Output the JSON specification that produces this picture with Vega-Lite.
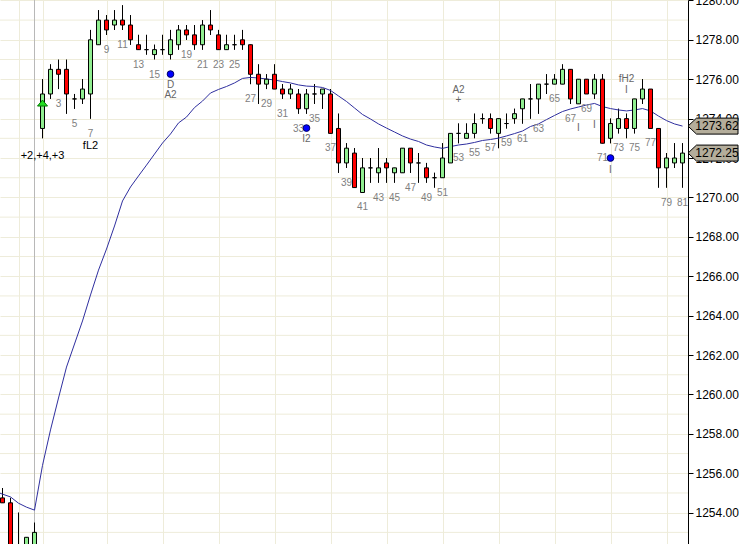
{
  "$schema": "https://vega.github.io/schema/vega-lite/v6.json",
  "width": 688,
  "height": 544,
  "autosize": {"type": "none"},
  "padding": {"left": 0, "top": 0, "right": 51, "bottom": 0},
  "background": "white",
  "config": {"view": {"stroke": null}, "font": "Liberation Sans"},
  "datasets": {
    "bars": [
      {"i": -4, "o": 1254.75, "h": 1255.25, "l": 1254.5, "c": 1254.5},
      {"i": -3, "o": 1254.5, "h": 1254.75, "l": 1251.5, "c": 1252},
      {"i": -2, "o": 1252, "h": 1254, "l": 1251.75, "c": 1252.25},
      {"i": -1, "o": 1252.25, "h": 1252.75, "l": 1252, "c": 1252.75},
      {"i": 0, "o": 1252.25, "h": 1253.5, "l": 1252, "c": 1253},
      {"i": 1, "o": 1273.5, "h": 1276, "l": 1273, "c": 1275.25},
      {"i": 2, "o": 1275.25, "h": 1276.75, "l": 1275, "c": 1276.5},
      {"i": 3, "o": 1276.5, "h": 1277, "l": 1275.5, "c": 1276.25},
      {"i": 4, "o": 1276.5, "h": 1277, "l": 1274.25, "c": 1275.25},
      {"i": 5, "o": 1275, "h": 1275.25, "l": 1274.5, "c": 1275},
      {"i": 6, "o": 1275, "h": 1276, "l": 1274.75, "c": 1275.5},
      {"i": 7, "o": 1275.25, "h": 1278.5, "l": 1274, "c": 1278},
      {"i": 8, "o": 1277.75, "h": 1279.5, "l": 1277.75, "c": 1279},
      {"i": 9, "o": 1279, "h": 1279.25, "l": 1278.25, "c": 1278.5},
      {"i": 10, "o": 1278.75, "h": 1279.5, "l": 1278.5, "c": 1279},
      {"i": 11, "o": 1279, "h": 1279.75, "l": 1278.5, "c": 1278.75},
      {"i": 12, "o": 1278.75, "h": 1279.25, "l": 1277.75, "c": 1278},
      {"i": 13, "o": 1277.75, "h": 1278.25, "l": 1277.5, "c": 1277.5},
      {"i": 14, "o": 1277.5, "h": 1278.25, "l": 1277.25, "c": 1277.5},
      {"i": 15, "o": 1277.25, "h": 1277.75, "l": 1277, "c": 1277.5},
      {"i": 16, "o": 1277.5, "h": 1278.25, "l": 1277.25, "c": 1277.5},
      {"i": 17, "o": 1277.25, "h": 1278.5, "l": 1277, "c": 1278},
      {"i": 18, "o": 1277.75, "h": 1278.75, "l": 1277.5, "c": 1278.5},
      {"i": 19, "o": 1278.5, "h": 1278.75, "l": 1278, "c": 1278.25},
      {"i": 20, "o": 1278.25, "h": 1278.75, "l": 1277.5, "c": 1277.75},
      {"i": 21, "o": 1277.75, "h": 1279, "l": 1277.5, "c": 1278.75},
      {"i": 22, "o": 1278.75, "h": 1279.5, "l": 1278.25, "c": 1278.5},
      {"i": 23, "o": 1278.25, "h": 1278.5, "l": 1277.5, "c": 1277.5},
      {"i": 24, "o": 1277.5, "h": 1278.25, "l": 1277.5, "c": 1277.75},
      {"i": 25, "o": 1277.75, "h": 1278.25, "l": 1277.5, "c": 1277.75},
      {"i": 26, "o": 1278, "h": 1278.5, "l": 1277.5, "c": 1277.75},
      {"i": 27, "o": 1277.75, "h": 1277.75, "l": 1275.75, "c": 1276.25},
      {"i": 28, "o": 1276.25, "h": 1276.75, "l": 1274.75, "c": 1275.75},
      {"i": 29, "o": 1275.75, "h": 1276.25, "l": 1275.5, "c": 1276},
      {"i": 30, "o": 1276.25, "h": 1276.75, "l": 1275.5, "c": 1275.5},
      {"i": 31, "o": 1275.5, "h": 1275.75, "l": 1275, "c": 1275.25},
      {"i": 32, "o": 1275.25, "h": 1275.75, "l": 1275, "c": 1275.5},
      {"i": 33, "o": 1275.25, "h": 1275.5, "l": 1274.25, "c": 1274.5},
      {"i": 34, "o": 1274.5, "h": 1275.5, "l": 1274.25, "c": 1275.25},
      {"i": 35, "o": 1275.25, "h": 1275.75, "l": 1274.75, "c": 1275.25},
      {"i": 36, "o": 1275.25, "h": 1275.5, "l": 1274.5, "c": 1275.5},
      {"i": 37, "o": 1275.25, "h": 1275.5, "l": 1273.25, "c": 1273.25},
      {"i": 38, "o": 1273.5, "h": 1274.25, "l": 1271.25, "c": 1271.75},
      {"i": 39, "o": 1271.75, "h": 1272.75, "l": 1271.5, "c": 1272.5},
      {"i": 40, "o": 1272.25, "h": 1272.5, "l": 1270.5, "c": 1270.5},
      {"i": 41, "o": 1270.25, "h": 1272, "l": 1270.25, "c": 1271.5},
      {"i": 42, "o": 1271.5, "h": 1272, "l": 1270.75, "c": 1271.5},
      {"i": 43, "o": 1271.25, "h": 1272.5, "l": 1270.75, "c": 1271.5},
      {"i": 44, "o": 1271.75, "h": 1272, "l": 1270.75, "c": 1271.5},
      {"i": 45, "o": 1271.25, "h": 1271.5, "l": 1270.75, "c": 1271.5},
      {"i": 46, "o": 1271.25, "h": 1272.5, "l": 1271.25, "c": 1272.5},
      {"i": 47, "o": 1272.5, "h": 1272.5, "l": 1271.25, "c": 1271.75},
      {"i": 48, "o": 1271.75, "h": 1272.25, "l": 1270.75, "c": 1271.75},
      {"i": 49, "o": 1271.5, "h": 1271.75, "l": 1270.75, "c": 1271},
      {"i": 50, "o": 1271, "h": 1271.25, "l": 1270.5, "c": 1271},
      {"i": 51, "o": 1271, "h": 1272.75, "l": 1271, "c": 1272},
      {"i": 52, "o": 1271.75, "h": 1273.25, "l": 1271.75, "c": 1273.25},
      {"i": 53, "o": 1273.25, "h": 1273.75, "l": 1272.75, "c": 1273.25},
      {"i": 54, "o": 1273, "h": 1273.75, "l": 1273, "c": 1273.25},
      {"i": 55, "o": 1273.25, "h": 1274.25, "l": 1273, "c": 1273.75},
      {"i": 56, "o": 1274, "h": 1274.25, "l": 1273.75, "c": 1274},
      {"i": 57, "o": 1274, "h": 1274.25, "l": 1273.25, "c": 1273.5},
      {"i": 58, "o": 1273.25, "h": 1274, "l": 1272.5, "c": 1274},
      {"i": 59, "o": 1273.75, "h": 1274.25, "l": 1273.5, "c": 1273.75},
      {"i": 60, "o": 1274, "h": 1274.5, "l": 1273.75, "c": 1274.25},
      {"i": 61, "o": 1274.5, "h": 1275, "l": 1273.75, "c": 1275},
      {"i": 62, "o": 1275, "h": 1275.75, "l": 1274, "c": 1275},
      {"i": 63, "o": 1275, "h": 1275.75, "l": 1274.25, "c": 1275.75},
      {"i": 64, "o": 1275.75, "h": 1276.25, "l": 1275.25, "c": 1275.75},
      {"i": 65, "o": 1275.75, "h": 1276.25, "l": 1275.75, "c": 1276},
      {"i": 66, "o": 1275.75, "h": 1276.75, "l": 1275.75, "c": 1276.5},
      {"i": 67, "o": 1276.5, "h": 1276.5, "l": 1274.75, "c": 1275},
      {"i": 68, "o": 1274.75, "h": 1276, "l": 1274.75, "c": 1276},
      {"i": 69, "o": 1276, "h": 1276, "l": 1275.25, "c": 1275.25},
      {"i": 70, "o": 1275.25, "h": 1276.25, "l": 1275, "c": 1276},
      {"i": 71, "o": 1276, "h": 1276.25, "l": 1272.75, "c": 1272.75},
      {"i": 72, "o": 1273, "h": 1274, "l": 1272.75, "c": 1273.75},
      {"i": 73, "o": 1273.5, "h": 1274.5, "l": 1273.25, "c": 1274},
      {"i": 74, "o": 1274, "h": 1274.25, "l": 1273, "c": 1273.5},
      {"i": 75, "o": 1273.5, "h": 1275, "l": 1273.25, "c": 1275},
      {"i": 76, "o": 1275, "h": 1276, "l": 1274.75, "c": 1275.5},
      {"i": 77, "o": 1275.5, "h": 1275.5, "l": 1273.5, "c": 1273.5},
      {"i": 78, "o": 1273.5, "h": 1273.5, "l": 1270.5, "c": 1271.5},
      {"i": 79, "o": 1271.5, "h": 1272.25, "l": 1270.5, "c": 1272},
      {"i": 80, "o": 1271.75, "h": 1272.75, "l": 1271.5, "c": 1272},
      {"i": 81, "o": 1271.75, "h": 1272.75, "l": 1270.5, "c": 1272.25}
    ],
    "ma": [
      {"i": -5, "v": 1255.1}, {"i": -4, "v": 1254.94}, {"i": -3, "v": 1254.8}, {"i": -2, "v": 1254.48},
      {"i": -1, "v": 1254.28}, {"i": 0, "v": 1254.13}, {"i": 1, "v": 1256.4}, {"i": 2, "v": 1258.2},
      {"i": 3, "v": 1259.82}, {"i": 4, "v": 1261.39}, {"i": 5, "v": 1262.56}, {"i": 6, "v": 1263.73},
      {"i": 7, "v": 1265.05}, {"i": 8, "v": 1266.31}, {"i": 9, "v": 1267.38}, {"i": 10, "v": 1268.55},
      {"i": 11, "v": 1269.82}, {"i": 12, "v": 1270.53}, {"i": 13, "v": 1271.09}, {"i": 14, "v": 1271.64},
      {"i": 15, "v": 1272.2}, {"i": 16, "v": 1272.76}, {"i": 17, "v": 1273.22}, {"i": 18, "v": 1273.78},
      {"i": 19, "v": 1274.08}, {"i": 20, "v": 1274.56}, {"i": 21, "v": 1274.89}, {"i": 22, "v": 1275.3},
      {"i": 23, "v": 1275.48}, {"i": 24, "v": 1275.63}, {"i": 25, "v": 1275.81}, {"i": 26, "v": 1276.04},
      {"i": 27, "v": 1276.09}, {"i": 28, "v": 1276.06}, {"i": 29, "v": 1276.01}, {"i": 30, "v": 1275.96},
      {"i": 31, "v": 1275.88}, {"i": 32, "v": 1275.81}, {"i": 33, "v": 1275.71}, {"i": 34, "v": 1275.65},
      {"i": 35, "v": 1275.63}, {"i": 36, "v": 1275.58}, {"i": 37, "v": 1275.43}, {"i": 38, "v": 1275.15},
      {"i": 39, "v": 1274.87}, {"i": 40, "v": 1274.54}, {"i": 41, "v": 1274.21}, {"i": 42, "v": 1273.98},
      {"i": 43, "v": 1273.73}, {"i": 44, "v": 1273.52}, {"i": 45, "v": 1273.32}, {"i": 46, "v": 1273.12},
      {"i": 47, "v": 1272.96}, {"i": 48, "v": 1272.84}, {"i": 49, "v": 1272.66}, {"i": 50, "v": 1272.56},
      {"i": 51, "v": 1272.49}, {"i": 52, "v": 1272.58}, {"i": 53, "v": 1272.66}, {"i": 54, "v": 1272.71},
      {"i": 55, "v": 1272.79}, {"i": 56, "v": 1272.89}, {"i": 57, "v": 1272.94}, {"i": 58, "v": 1273.01},
      {"i": 59, "v": 1273.12}, {"i": 60, "v": 1273.24}, {"i": 61, "v": 1273.37}, {"i": 62, "v": 1273.6},
      {"i": 63, "v": 1273.73}, {"i": 64, "v": 1273.95}, {"i": 65, "v": 1274.16}, {"i": 66, "v": 1274.36},
      {"i": 67, "v": 1274.49}, {"i": 68, "v": 1274.59}, {"i": 69, "v": 1274.69}, {"i": 70, "v": 1274.77},
      {"i": 71, "v": 1274.61}, {"i": 72, "v": 1274.51}, {"i": 73, "v": 1274.44}, {"i": 74, "v": 1274.39},
      {"i": 75, "v": 1274.44}, {"i": 76, "v": 1274.51}, {"i": 77, "v": 1274.39}, {"i": 78, "v": 1274.13},
      {"i": 79, "v": 1273.9}, {"i": 80, "v": 1273.73}, {"i": 81, "v": 1273.62}
    ],
    "notes": [
      {"i": 1, "p": 1272.1, "t": "+2,+4,+3", "kind": "black"},
      {"i": 7, "p": 1272.61, "t": "fL2", "kind": "black"},
      {"i": 17, "p": 1275.72, "t": "D", "kind": "gray"},
      {"i": 17, "p": 1275.18, "t": "A2", "kind": "gray"},
      {"i": 34, "p": 1272.96, "t": "I2", "kind": "gray"},
      {"i": 53, "p": 1275.47, "t": "A2", "kind": "gray"},
      {"i": 53, "p": 1274.92, "t": "+", "kind": "gray"},
      {"i": 74, "p": 1276.01, "t": "fH2", "kind": "gray"},
      {"i": 74, "p": 1275.45, "t": "I", "kind": "gray"},
      {"i": 68, "p": 1273.52, "t": "I", "kind": "gray"},
      {"i": 70, "p": 1273.67, "t": "I", "kind": "gray"},
      {"i": 72, "p": 1271.39, "t": "I", "kind": "gray"}
    ],
    "dots": [
      {"i": 17, "p": 1276.26},
      {"i": 34, "p": 1273.52},
      {"i": 72, "p": 1272.0}
    ],
    "arrows": [
      {"i": 1, "p": 1274.79}
    ],
    "tags": [
      {"i": 81, "v": 1273.62, "t": "1273.62"},
      {"i": 81, "v": 1272.25, "t": "1272.25"}
    ],
    "halfgrid": [
      {"g": 1253}, {"g": 1255}, {"g": 1257}, {"g": 1259}, {"g": 1261}, {"g": 1263}, {"g": 1265},
      {"g": 1267}, {"g": 1269}, {"g": 1271}, {"g": 1273}, {"g": 1275}, {"g": 1277}, {"g": 1279}
    ]
  },
  "layer": [
    {
      "data": {"name": "bars"},
      "mark": {"type": "rule", "color": "black", "strokeWidth": 1, "clip": true},
      "encoding": {
        "x": {
          "field": "i", "type": "quantitative",
          "scale": {"domain": [-4.3125, 81.6875], "nice": false, "zero": false, "padding": 0},
          "axis": {
            "values": [-2, 1, 9, 16, 23, 30, 37, 44, 51, 58, 65, 72, 79],
            "grid": true, "gridColor": "#eeecda", "gridOpacity": 1, "gridWidth": 1,
            "labels": false, "ticks": false, "domain": false, "title": null
          }
        },
        "y": {
          "field": "l", "type": "quantitative",
          "scale": {"domain": [1252.41, 1280.02], "nice": false, "zero": false, "padding": 0},
          "axis": {
            "orient": "right",
            "values": [1254, 1256, 1258, 1260, 1262, 1264, 1266, 1268, 1270, 1272, 1274, 1276, 1278, 1280],
            "format": ".2f",
            "grid": true, "gridColor": "#eeecda", "gridOpacity": 1, "gridWidth": 1,
            "tickSize": 5, "tickColor": "black", "domainColor": "black", "domainWidth": 1,
            "labelColor": "black", "labelFontSize": 12, "labelFont": "Liberation Sans",
            "labelPadding": 2, "labelFlush": false, "labelOverlap": false, "labelBound": false,
            "title": null
          }
        },
        "y2": {"field": "h"}
      }
    },
    {
      "data": {"name": "halfgrid"},
      "mark": {"type": "rule", "color": "#eeecda", "strokeWidth": 1},
      "encoding": {
        "y": {"field": "g", "type": "quantitative", "scale": {"domain": [1252.41, 1280.02], "nice": false, "zero": false, "padding": 0}}
      }
    },
    {
      "data": {"values": [{}]},
      "mark": {"type": "rule", "color": "#b8b8b8", "strokeWidth": 1},
      "encoding": {
        "x": {"datum": 0, "type": "quantitative", "scale": {"domain": [-4.3125, 81.6875], "nice": false, "zero": false, "padding": 0}}
      }
    },
    {
      "data": {"name": "bars"},
      "mark": {"type": "rule", "color": "black", "strokeWidth": 1, "clip": true},
      "encoding": {
        "x": {"field": "i", "type": "quantitative", "scale": {"domain": [-4.3125, 81.6875], "nice": false, "zero": false, "padding": 0}},
        "y": {"field": "l", "type": "quantitative", "scale": {"domain": [1252.41, 1280.02], "nice": false, "zero": false, "padding": 0}},
        "y2": {"field": "h"}
      }
    },
    {
      "data": {"name": "ma"},
      "mark": {"type": "line", "color": "#2f2f9f", "strokeWidth": 1, "clip": true},
      "encoding": {
        "x": {"field": "i", "type": "quantitative", "scale": {"domain": [-4.3125, 81.6875], "nice": false, "zero": false, "padding": 0}},
        "y": {"field": "v", "type": "quantitative", "scale": {"domain": [1252.41, 1280.02], "nice": false, "zero": false, "padding": 0}}
      }
    },
    {
      "data": {"name": "bars"},
      "mark": {"type": "bar", "size": 4, "stroke": "black", "strokeWidth": 1, "clip": true},
      "encoding": {
        "x": {"field": "i", "type": "quantitative", "scale": {"domain": [-4.3125, 81.6875], "nice": false, "zero": false, "padding": 0}},
        "y": {"field": "o", "type": "quantitative", "scale": {"domain": [1252.41, 1280.02], "nice": false, "zero": false, "padding": 0}},
        "y2": {"field": "c"},
        "fill": {"condition": {"test": "datum.c >= datum.o", "value": "#90ee90"}, "value": "#ff0000"}
      }
    },
    {
      "data": {"name": "bars"},
      "transform": [{"filter": "datum.i >= 3 && datum.i % 2 === 1 && datum.i !== 17"}],
      "mark": {"type": "text", "fontSize": 10, "color": "#808080", "baseline": "middle", "align": "center", "dy": 15, "font": "Liberation Sans", "clip": true},
      "encoding": {
        "x": {"field": "i", "type": "quantitative", "scale": {"domain": [-4.3125, 81.6875], "nice": false, "zero": false, "padding": 0}},
        "y": {"field": "l", "type": "quantitative", "scale": {"domain": [1252.41, 1280.02], "nice": false, "zero": false, "padding": 0}},
        "text": {"field": "i", "type": "quantitative", "format": "d"}
      }
    },
    {
      "data": {"name": "notes"},
      "transform": [{"filter": "datum.kind === 'black'"}],
      "mark": {"type": "text", "fontSize": 11, "color": "black", "baseline": "middle", "align": "center", "font": "Liberation Sans"},
      "encoding": {
        "x": {"field": "i", "type": "quantitative", "scale": {"domain": [-4.3125, 81.6875], "nice": false, "zero": false, "padding": 0}},
        "y": {"field": "p", "type": "quantitative", "scale": {"domain": [1252.41, 1280.02], "nice": false, "zero": false, "padding": 0}},
        "text": {"field": "t"}
      }
    },
    {
      "data": {"name": "notes"},
      "transform": [{"filter": "datum.kind === 'gray'"}],
      "mark": {"type": "text", "fontSize": 10, "color": "#666666", "baseline": "middle", "align": "center", "font": "Liberation Sans"},
      "encoding": {
        "x": {"field": "i", "type": "quantitative", "scale": {"domain": [-4.3125, 81.6875], "nice": false, "zero": false, "padding": 0}},
        "y": {"field": "p", "type": "quantitative", "scale": {"domain": [1252.41, 1280.02], "nice": false, "zero": false, "padding": 0}},
        "text": {"field": "t"}
      }
    },
    {
      "data": {"name": "dots"},
      "mark": {"type": "point", "shape": "circle", "filled": true, "size": 45, "fill": "#0000ff", "stroke": "#000066", "strokeWidth": 1, "opacity": 1},
      "encoding": {
        "x": {"field": "i", "type": "quantitative", "scale": {"domain": [-4.3125, 81.6875], "nice": false, "zero": false, "padding": 0}},
        "y": {"field": "p", "type": "quantitative", "scale": {"domain": [1252.41, 1280.02], "nice": false, "zero": false, "padding": 0}}
      }
    },
    {
      "data": {"name": "arrows"},
      "mark": {"type": "point", "shape": "M-5,3L0,-3L5,3Z", "filled": true, "size": 4, "fill": "#22dd22", "stroke": "#007700", "strokeWidth": 1, "opacity": 1},
      "encoding": {
        "x": {"field": "i", "type": "quantitative", "scale": {"domain": [-4.3125, 81.6875], "nice": false, "zero": false, "padding": 0}},
        "y": {"field": "p", "type": "quantitative", "scale": {"domain": [1252.41, 1280.02], "nice": false, "zero": false, "padding": 0}}
      }
    },
    {
      "data": {"name": "tags"},
      "mark": {"type": "point", "shape": "M5.5,0L14,-8L55.5,-8L55.5,8L14,8Z", "filled": true, "size": 4, "fill": "#b4ad9b", "stroke": "black", "strokeWidth": 1, "opacity": 1, "clip": false},
      "encoding": {
        "x": {"field": "i", "type": "quantitative", "scale": {"domain": [-4.3125, 81.6875], "nice": false, "zero": false, "padding": 0}},
        "y": {"field": "v", "type": "quantitative", "scale": {"domain": [1252.41, 1280.02], "nice": false, "zero": false, "padding": 0}}
      }
    },
    {
      "data": {"name": "tags"},
      "mark": {"type": "text", "fontSize": 12, "color": "black", "baseline": "middle", "align": "center", "dx": 34.5, "font": "Liberation Sans", "clip": false},
      "encoding": {
        "x": {"field": "i", "type": "quantitative", "scale": {"domain": [-4.3125, 81.6875], "nice": false, "zero": false, "padding": 0}},
        "y": {"field": "v", "type": "quantitative", "scale": {"domain": [1252.41, 1280.02], "nice": false, "zero": false, "padding": 0}},
        "text": {"field": "t"}
      }
    }
  ]
}
